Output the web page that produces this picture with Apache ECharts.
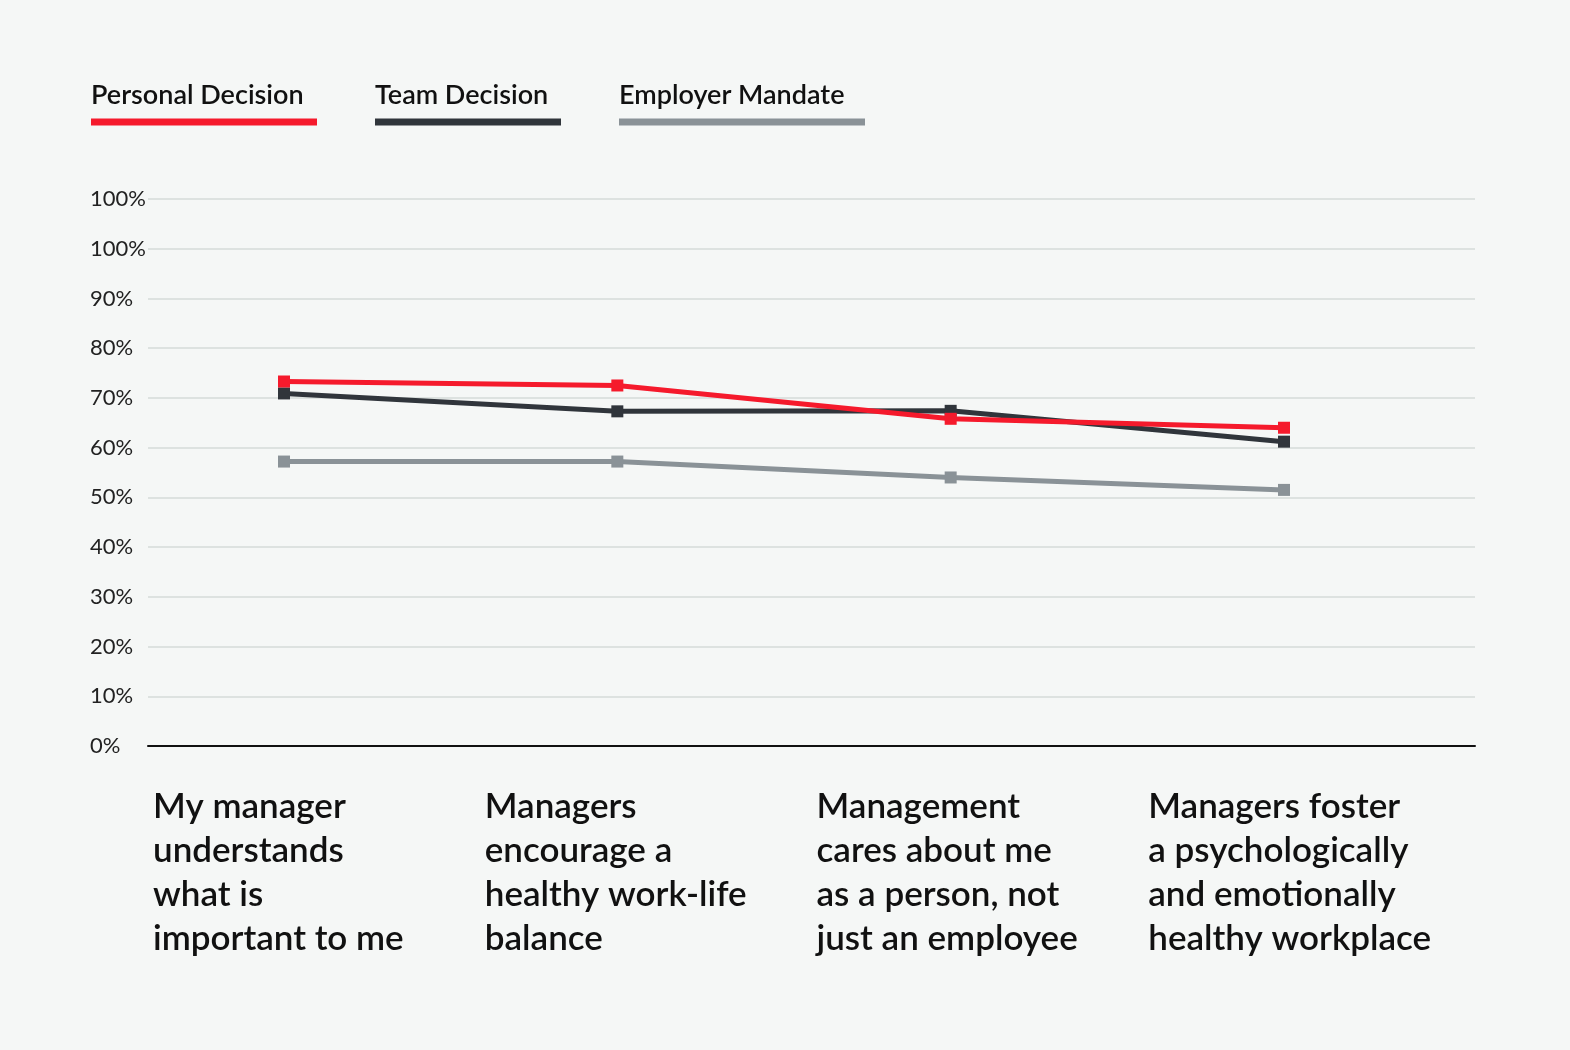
<!DOCTYPE html>
<html lang="en">
<head>
    <meta charset="UTF-8">
    <title>Manager perception by decision type</title>
    <script src="https://cdn.jsdelivr.net/npm/echarts@6/dist/echarts.min.js"></script>
    <style>
        html, body { margin: 0; padding: 0; background: #f5f7f6; }
    </style>
</head>
<body>
<div id="main" style="width: 1570px;height:1050px;"></div>
<script type="text/javascript">
    // categories and series values (share of respondents, %)
    var categories = [
        'My manager\nunderstands\nwhat is\nimportant to me',
        'Managers\nencourage a\nhealthy work-life\nbalance',
        'Management\ncares about me\nas a person, not\njust an employee',
        'Managers foster\na psychologically\nand emotionally\nhealthy workplace'
    ];
    var seriesNames = ['Personal Decision', 'Team Decision', 'Employer Mandate'];
    var personalDecision = [73.3, 72.5, 65.8, 64.0];
    var teamDecision = [70.9, 67.3, 67.4, 61.2];
    var employerMandate = [57.2, 57.2, 54.0, 51.5];
    // the original axis repeats "100%" on its top two lines
    var yTicks = ['0%', '10%', '20%', '30%', '40%', '50%', '60%', '70%', '80%', '90%', '100%', '100%'];

    var colors = ['#f51a2c', '#30353b', '#8a9297'];
    var barWidths = [226, 186, 246];
    var font = 'Lato, "Noto Sans", sans-serif';

    var myChart = echarts.init(document.getElementById('main'));

    var legendRich = { n: { fontSize: 27, fontFamily: font, color: '#111', lineHeight: 46, fontWeight: 600 } };
    seriesNames.forEach(function (name, i) {
        legendRich['b' + i] = { width: barWidths[i], height: 7, lineHeight: 7, fontSize: 1, backgroundColor: colors[i] };
    });

    var seriesData = [personalDecision, teamDecision, employerMandate];

    myChart.setOption({
        backgroundColor: '#f5f7f6',
        animation: false,
        legend: {
            left: 80,
            top: 77,
            itemWidth: 0,
            itemHeight: 0,
            itemGap: 52,
            selectedMode: false,
            data: seriesNames,
            formatter: function (name) {
                var i = seriesNames.indexOf(name);
                return '{n|' + name + '}\n{b' + i + '| }';
            },
            textStyle: { rich: legendRich }
        },
        grid: [
            { left: 148, right: 95, top: 199, bottom: 304 },
            { left: 284, right: 286, top: 199, bottom: 304 }
        ],
        xAxis: [
            {
                gridIndex: 0,
                type: 'category',
                boundaryGap: false,
                data: categories.concat(['']),
                axisLine: { lineStyle: { color: '#111', width: 2 } },
                axisTick: { show: false },
                splitLine: { show: false },
                axisLabel: {
                    interval: 0,
                    align: 'left',
                    margin: 39,
                    padding: [0, 0, 0, 5],
                    fontSize: 35,
                    lineHeight: 44,
                    fontWeight: 600,
                    fontFamily: font,
                    color: '#111'
                }
            },
            {
                gridIndex: 1,
                type: 'category',
                boundaryGap: false,
                data: categories,
                show: false
            }
        ],
        yAxis: [
            {
                gridIndex: 0,
                type: 'value',
                min: 0,
                max: 110,
                interval: 10,
                axisLine: { show: false },
                axisTick: { show: false },
                splitLine: { lineStyle: { color: '#dde2e0', width: 2 } },
                axisLabel: {
                    align: 'left',
                    margin: 58,
                    fontSize: 22,
                    fontFamily: font,
                    color: '#222',
                    formatter: function (v) { return yTicks[Math.round(v / 10)]; }
                }
            },
            {
                gridIndex: 1,
                type: 'value',
                min: 0,
                max: 110,
                interval: 10,
                show: false,
                splitLine: { show: false }
            }
        ],
        series: seriesNames.map(function (name, i) {
            return {
                name: name,
                type: 'line',
                xAxisIndex: 1,
                yAxisIndex: 1,
                data: seriesData[i],
                symbol: 'rect',
                symbolSize: 12,
                showAllSymbol: true,
                z: 10 - i,
                itemStyle: { color: colors[i] },
                lineStyle: { color: colors[i], width: 5 }
            };
        })
    });
</script>
</body>
</html>
